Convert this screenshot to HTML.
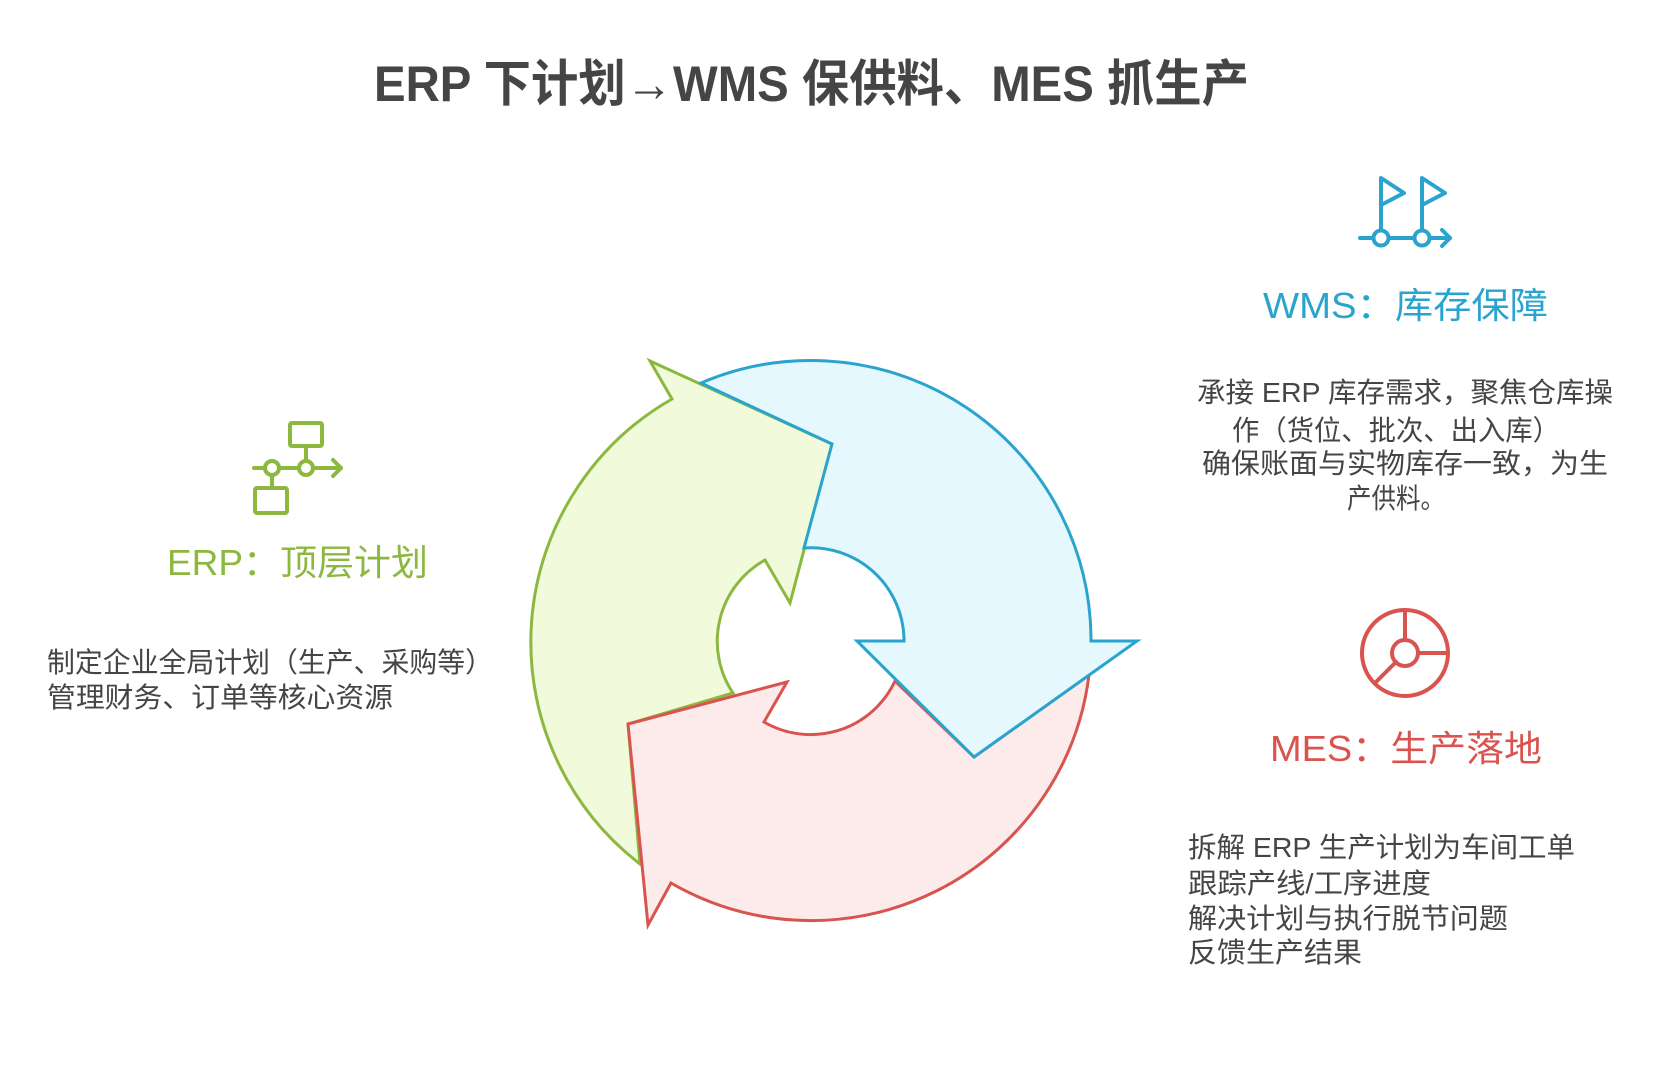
<!DOCTYPE html>
<html><head><meta charset="utf-8"><style>
html,body{margin:0;padding:0;background:#fff;}
svg{display:block;}
text{font-family:"Liberation Sans","Noto Sans CJK SC",sans-serif;}
</style></head><body>
<svg width="1669" height="1069" viewBox="0 0 1669 1069" xmlns="http://www.w3.org/2000/svg">
<rect width="1669" height="1069" fill="#fff"/>
<text x="374" y="101" font-size="50" font-weight="bold" fill="#454545" textLength="875" lengthAdjust="spacingAndGlyphs">ERP 下计划→WMS 保供料、MES 抓生产</text>

<!-- green arrow -->
<path d="M640,864 A280,280 0 0 1 672,399 L650,361 L832,444 L790,603 L765,560 A93,93 0 0 0 733,693 L628,724 Z" fill="#f1fbdc" stroke="#8cb840" stroke-width="3" stroke-linejoin="miter"/>
<!-- red arrow -->
<path d="M1089,675 A280,280 0 0 1 671,883 L648,925 L628,724 L787,682 L764,722 A93,93 0 0 0 895,681 L974,757 Z" fill="#fdeaea" stroke="#d9534f" stroke-width="3"/>
<!-- blue arrow -->
<path d="M701,383 A280,280 0 0 1 1091,641 L1137,641 L974,757 L857,641 L904,641 A93,93 0 0 0 804,548 L832,444 Z" fill="#e5f8fd" stroke="#2aa4cf" stroke-width="3"/>

<!-- ERP icon -->
<g fill="none" stroke="#8cb840" stroke-width="4" stroke-linecap="round" stroke-linejoin="round">
<rect x="290" y="423" width="32" height="23" rx="2"/>
<rect x="255" y="488" width="32" height="25" rx="2"/>
<line x1="254" y1="468" x2="265" y2="468"/>
<line x1="279" y1="468" x2="299" y2="468"/>
<line x1="313" y1="468" x2="341" y2="468"/>
<polyline points="333,460 341,468 333,476"/>
<circle cx="272" cy="468" r="7"/>
<circle cx="306" cy="468" r="7"/>
<line x1="306" y1="446" x2="306" y2="461"/>
<line x1="272" y1="475" x2="272" y2="488"/>
</g>
<text x="167" y="575" font-size="36" fill="#8cb840" textLength="261" lengthAdjust="spacingAndGlyphs">ERP：顶层计划</text>
<text x="47" y="672" font-size="28" fill="#454545" textLength="446" lengthAdjust="spacingAndGlyphs">制定企业全局计划（生产、采购等）</text>
<text x="47" y="707" font-size="28" fill="#454545" textLength="346" lengthAdjust="spacingAndGlyphs">管理财务、订单等核心资源</text>

<!-- WMS icon -->
<g fill="none" stroke="#2aa4cf" stroke-width="4" stroke-linecap="round" stroke-linejoin="round">
<polyline points="1381,230 1381,178 1404,193 1381,205"/>
<polyline points="1422,230 1422,178 1445,193 1422,205"/>
<line x1="1360" y1="238" x2="1373" y2="238"/>
<line x1="1389" y1="238" x2="1414" y2="238"/>
<line x1="1430" y1="238" x2="1450" y2="238"/>
<polyline points="1442,230 1450,238 1442,246"/>
<circle cx="1381" cy="238" r="7.5"/>
<circle cx="1422" cy="238" r="7.5"/>
</g>
<text x="1263" y="318" font-size="36" fill="#2aa4cf" textLength="285" lengthAdjust="spacingAndGlyphs">WMS：库存保障</text>
<text x="1197" y="402" font-size="28" fill="#454545" textLength="416" lengthAdjust="spacingAndGlyphs">承接 ERP 库存需求，聚焦仓库操</text>
<text x="1232" y="440" font-size="28" fill="#454545" textLength="328" lengthAdjust="spacingAndGlyphs">作（货位、批次、出入库）</text>
<text x="1202" y="473" font-size="28" fill="#454545" textLength="406" lengthAdjust="spacingAndGlyphs">确保账面与实物库存一致，为生</text>
<text x="1347" y="508" font-size="28" fill="#454545" textLength="98" lengthAdjust="spacingAndGlyphs">产供料。</text>

<!-- MES icon -->
<g fill="none" stroke="#d9534f" stroke-width="4" stroke-linecap="round">
<circle cx="1405" cy="653" r="43"/>
<circle cx="1405" cy="653" r="13"/>
<line x1="1405" y1="610" x2="1405" y2="640"/>
<line x1="1418" y1="653" x2="1448" y2="653"/>
<line x1="1396" y1="662" x2="1375" y2="683"/>
</g>
<text x="1270" y="761" font-size="36" fill="#d9534f" textLength="272" lengthAdjust="spacingAndGlyphs">MES：生产落地</text>
<text x="1188" y="857" font-size="28" fill="#454545" textLength="387" lengthAdjust="spacingAndGlyphs">拆解 ERP 生产计划为车间工单</text>
<text x="1188" y="893" font-size="28" fill="#454545" textLength="243" lengthAdjust="spacingAndGlyphs">跟踪产线/工序进度</text>
<text x="1188" y="928" font-size="28" fill="#454545" textLength="320" lengthAdjust="spacingAndGlyphs">解决计划与执行脱节问题</text>
<text x="1188" y="962" font-size="28" fill="#454545" textLength="174" lengthAdjust="spacingAndGlyphs">反馈生产结果</text>
</svg>
</body></html>
